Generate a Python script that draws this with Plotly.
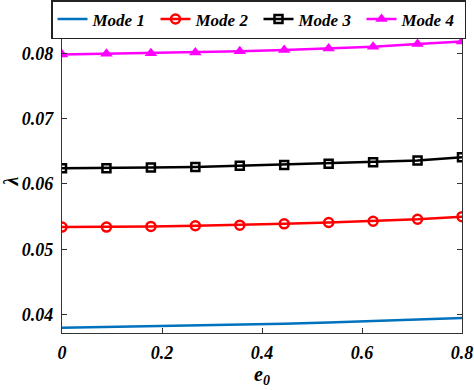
import plotly.graph_objects as go

e0 = [0, 0.0889, 0.1778, 0.2667, 0.3556, 0.4444, 0.5333, 0.6222, 0.7111, 0.8]
mode1 = [0.0380, 0.0381, 0.0382, 0.0383, 0.0384, 0.0386, 0.0388, 0.0390, 0.0392, 0.0395]
mode2 = [0.0534, 0.0534, 0.0535, 0.0536, 0.0537, 0.0539, 0.0541, 0.0543, 0.0546, 0.0550]
mode3 = [0.0624, 0.0624, 0.0625, 0.0626, 0.0628, 0.0629, 0.0631, 0.0633, 0.0636, 0.0641]
mode4 = [0.0798, 0.0799, 0.0800, 0.0801, 0.0803, 0.0805, 0.0807, 0.0810, 0.0814, 0.0818]
x_ticks = [0, 0.2, 0.4, 0.6, 0.8]
x_ticklabels = ["0", "0.2", "0.4", "0.6", "0.8"]
y_ticks = [0.04, 0.05, 0.06, 0.07, 0.08]
y_ticklabels = ["0.04", "0.05", "0.06", "0.07", "0.08"]

FONT = "Liberation Serif"
fig = go.Figure()
fig.add_trace(go.Scatter(x=e0, y=mode1, mode="lines", name="<b><i>Mode 1</i></b>",
                         line=dict(color="#0072BD", width=2.5)))
fig.add_trace(go.Scatter(x=e0, y=mode2, mode="lines+markers", name="<b><i>Mode 2</i></b>",
                         line=dict(color="#FF0000", width=2.5),
                         marker=dict(symbol="circle-open", size=9, color="#FF0000", line=dict(width=2.5))))
fig.add_trace(go.Scatter(x=e0, y=mode3, mode="lines+markers", name="<b><i>Mode 3</i></b>",
                         line=dict(color="#000000", width=2.5),
                         marker=dict(symbol="square-open", size=8, color="#000000", line=dict(width=2.5))))
fig.add_trace(go.Scatter(x=e0, y=mode4, mode="lines+markers", name="<b><i>Mode 4</i></b>",
                         line=dict(color="#FF00FF", width=2.5),
                         marker=dict(symbol="triangle-up", size=11, color="#FF00FF")))

axis_common = dict(showline=True, linecolor="#333333", linewidth=1.2, mirror="ticks",
                   ticks="inside", ticklen=5, tickcolor="#333333", showgrid=False, zeroline=False,
                   automargin=False,
                   tickfont=dict(family=FONT, size=18, color="black"))
fig.update_xaxes(range=[0, 0.8], tickvals=x_ticks,
                 ticktext=["<b><i>%s</i></b>" % t for t in x_ticklabels],
                 ticklabelstandoff=3,
                 title=dict(text="<b><i>e<sub>0</sub></i></b>", font=dict(family=FONT, size=20, color="black"), standoff=0),
                 **axis_common)
fig.update_yaxes(range=[0.0372, 0.0837], tickvals=y_ticks,
                 ticktext=["<b><i>%s</i></b>" % t for t in y_ticklabels],
                 ticklabelstandoff=4,
                 title=dict(text="<b><i>λ</i></b>", font=dict(family=FONT, size=20, color="black"), standoff=24),
                 **axis_common)
fig.update_layout(
    width=474, height=390,
    margin=dict(l=62, r=12, t=29, b=57, autoexpand=False),
    plot_bgcolor="white", paper_bgcolor="white",
    legend=dict(orientation="h", xref="paper", yref="paper",
                x=(51 - 62) / 400, xanchor="left", y=1 + 29 / 304, yanchor="top",
                bordercolor="#222222", borderwidth=1.5, bgcolor="white",
                font=dict(family=FONT, size=17, color="black"),
                entrywidth=58, entrywidthmode="pixels",
                itemwidth=30, tracegroupgap=0),
    showlegend=True,
)
fig.write_html("out.html", config={"displayModeBar": False},
               post_script="document.body.style.margin='0';")
